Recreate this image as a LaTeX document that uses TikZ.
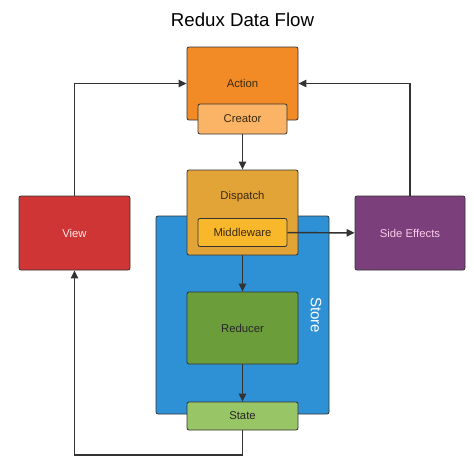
\documentclass[tikz,border=0pt]{standalone}
\usepackage{fontspec}
\setmainfont{Liberation Sans}
\usetikzlibrary{arrows.meta}
\definecolor{actionc}{HTML}{F28B25}
\definecolor{creatorc}{HTML}{FBB465}
\definecolor{dispatchc}{HTML}{E2A437}
\definecolor{middlec}{HTML}{F9B82B}
\definecolor{storec}{HTML}{2E90D5}
\definecolor{reducerc}{HTML}{6B9E3B}
\definecolor{statec}{HTML}{98C565}
\definecolor{viewc}{HTML}{D03535}
\definecolor{sidec}{HTML}{7B3F7B}
\definecolor{linec}{HTML}{333333}
\definecolor{darktext}{HTML}{3A2A12}
\begin{document}
\begin{tikzpicture}[x=0.75pt,y=-0.75pt,
    box/.style={draw=linec,line width=0.6pt,rounded corners=1.5pt,inner sep=0pt,
      font=\fontsize{8.5}{10}\selectfont,text=darktext},
    flow/.style={draw=linec,line width=1.1pt,-{Triangle[length=6pt,width=5.5pt]}}]
      \useasboundingbox (0,0) rectangle (474,472);
      \node[font=\fontsize{14}{16}\selectfont] (title) at (242.5,20) {Redux Data Flow};
      % store sits behind dispatch
      \node[box,fill=storec,minimum width=129.75pt,minimum height=148.5pt] (store) at (242.5,315) {};
      \node[rotate=-90,text=white,font=\fontsize{11.3}{13}\selectfont] (storelbl) at (316,315) {Store};
      \node[box,fill=actionc,minimum width=83.25pt,minimum height=54.75pt] (action) at (242.5,83.5) {Action};
      \node[box,fill=creatorc,minimum width=66.75pt,minimum height=22.5pt] (creator) at (242.5,119) {Creator};
      \node[box,fill=dispatchc,minimum width=83.25pt,minimum height=63.75pt] (dispatch) at (242.5,212.5) {};
      \node[font=\fontsize{8.5}{10}\selectfont,text=darktext] (dispatchlbl) at (242.5,197) {Dispatch};
      \node[box,fill=middlec,minimum width=66.75pt,minimum height=21pt] (middleware) at (242.5,232.5) {Middleware};
      \node[box,fill=reducerc,minimum width=83.25pt,minimum height=54pt,text=black!85] (reducer) at (242.5,328) {Reducer};
      \node[box,fill=statec,minimum width=83.25pt,minimum height=21pt,text=black!85] (state) at (242.5,416) {State};
      \node[box,fill=viewc,minimum width=83.25pt,minimum height=55.5pt,text=white!92!red] (view) at (74.5,233) {View};
      \node[box,fill=sidec,minimum width=82.5pt,minimum height=55.5pt,text=white!80!magenta] (side) at (410,233) {Side Effects};
      \coordinate (bottom) at (242.5,455);
      % connectors
      \draw[flow] (creator) -- (dispatch);
      \draw[flow] (dispatch) -- (reducer);
      \draw[flow] (reducer) -- (state);
      \draw[flow] (middleware) -- (side);
      \draw[flow] (side.north) |- (action.east);
      \draw[flow] (view.north) |- (action.west);
      \draw[flow] (state.south) -- (bottom) -| (view.south);
    \end{tikzpicture}
\end{document}
